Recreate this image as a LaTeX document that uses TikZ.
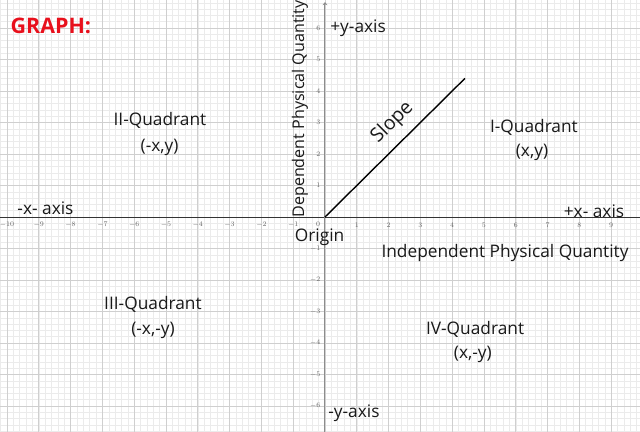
\documentclass[tikz,border=0pt]{standalone}
\usepackage{fontspec}
\usetikzlibrary{arrows.meta}
\setmainfont{Open Sans}
\definecolor{minorgrid}{HTML}{EBEBEB}
\definecolor{majorgrid}{HTML}{CFCFCF}
\definecolor{ticktext}{HTML}{666666}
\definecolor{graphred}{HTML}{E8101C}
\tikzset{
  lbl/.style={font=\fontsize{17.3}{19}\selectfont, text=black!90, inner sep=0pt},
  tick/.style={font=\fontsize{7.5}{8}\selectfont, text=ticktext, inner sep=0pt},
}
\begin{document}
\begin{tikzpicture}[x=31.8pt,y=31.5pt]
\useasboundingbox (-10.22,-6.825) rectangle (9.906,6.889);
\fill[white] (-10.22,-6.825) rectangle (9.906,6.889);
\clip (-10.22,-6.825) rectangle (9.906,6.889);
\draw[minorgrid, line width=0.5pt, step=0.2] (-10.4,-7) grid (10,7);
\draw[majorgrid, line width=0.8pt, step=1] (-11,-7) grid (10,7);
% axes
\coordinate (xl) at (-10.3,0);
\coordinate (xr) at (9.95,0);
\coordinate (yb) at (0,-6.9);
\coordinate (yt) at (0,6.82);
\coordinate (O) at (0,0);
\draw[black!80, line width=1pt] (xl) -- (xr);
\draw[black!45, line width=1pt, -{Stealth[length=3pt,width=5pt]}] (yb) -- (yt);
% tick labels
\foreach \i in {-10,...,-1,1,2,...,9} \node[tick] (tx\i) at (\i,-0.25) {$\i$};
\foreach \j in {-6,...,-1,1,2,...,6} \node[tick, anchor=east] (ty\j) at (-0.14,\j) {$\j$};
\node[tick] (t0) at (-0.22,-0.22) {$0$};
% slope line
\coordinate (S) at (4.4,4.4);
\draw[black, line width=1.4pt] (O) -- (S);
% texts
\node[font=\fontsize{21.4}{24}\selectfont\bfseries, text=graphred, inner sep=0pt] (graph) at (-8.62,6.06) {GRAPH:};
\node[lbl] (ypos) at (1.04,6.0) {+y-axis};
\node[lbl, font=\fontsize{16.1}{18}\selectfont, rotate=90] (dep) at (-0.79,3.43) {Dependent Physical Quantity};
\node[lbl] (q2) at (-5.19,3.08) {II-Quadrant};
\node[lbl] (q2c) at (-5.2,2.22) {(-x,y)};
\node[lbl] (q1) at (6.57,2.86) {I-Quadrant};
\node[lbl] (q1c) at (6.51,2.06) {(x,y)};
\node[lbl, font=\fontsize{19.5}{21}\selectfont, rotate=45] (slope) at (2.12,3.0) {Slope};
\node[lbl] (xneg) at (-8.79,0.29) {-x- axis};
\node[lbl] (xpos) at (8.46,0.19) {+x- axis};
\node[lbl] (orig) at (-0.17,-0.63) {Origin};
\node[lbl] (indep) at (5.66,-1.13) {Independent Physical Quantity};
\node[lbl] (q3) at (-5.41,-2.76) {III-Quadrant};
\node[lbl] (q3c) at (-5.41,-3.59) {(-x,-y)};
\node[lbl] (q4) at (4.72,-3.56) {IV-Quadrant};
\node[lbl] (q4c) at (4.65,-4.35) {(x,-y)};
\node[lbl] (yneg) at (0.91,-6.22) {-y-axis};
\end{tikzpicture}
\end{document}
